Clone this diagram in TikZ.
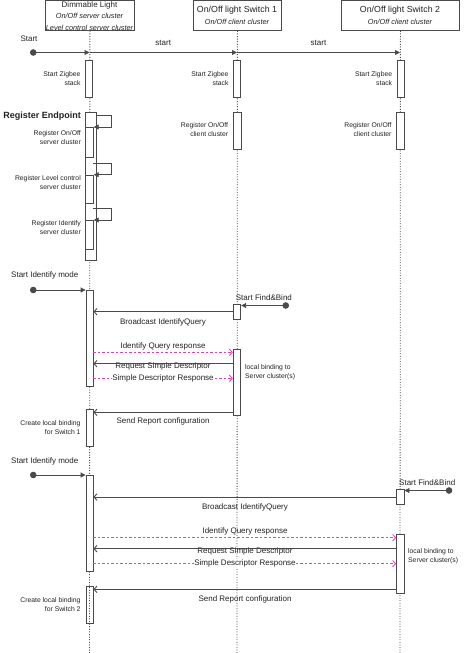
\documentclass[tikz,border=0pt]{standalone}
\usepackage{fontspec}
\setmainfont{Liberation Sans}
\usetikzlibrary{arrows.meta}
\definecolor{ln}{HTML}{4A4A4A}
\definecolor{tx}{HTML}{222222}
\definecolor{pk}{RGB}{236,60,180}
\begin{document}
\begin{tikzpicture}[x=1pt,y=-1pt,
  hdr/.style={draw=ln, line width=0.8pt, inner sep=0, anchor=north west},
  act/.style={draw=ln, fill=white, line width=0.8pt, inner sep=0, minimum width=7pt, anchor=north},
  life/.style={ln, line width=0.8pt, dash pattern=on 1pt off 1.6pt},
  msg/.style={ln, line width=0.9pt, -{Straight Barb[length=3pt,width=6.5pt]}},
  ret/.style={pk, line width=0.8pt, dash pattern=on 2.5pt off 2pt, -{Straight Barb[length=3pt,width=6.5pt]}},
  fmsg/.style={ln, line width=0.9pt, -{Triangle[length=5pt,width=5pt]}},
  trig/.style={ln, line width=0.9pt, {Circle[length=6.5pt]}-{Triangle[length=5pt,width=5pt]}},
  sm/.style={font=\fontsize{6.8}{9}\selectfont, text=tx, align=right, anchor=east, inner sep=0},
  sml/.style={font=\fontsize{6.8}{9}\selectfont, text=tx, align=left, anchor=west, inner sep=0},
  lb/.style={font=\fontsize{8}{9.5}\selectfont, text=tx, inner sep=0},
  ht/.style={font=\fontsize{8.8}{10}\selectfont, text=tx, inner sep=0},
  hi/.style={font=\fontsize{7.3}{9}\itshape, text=tx, inner sep=0}
]
\useasboundingbox (0,0) rectangle (474,653);
\fill[white] (0,0) rectangle (474,653);

% headers
\node[hdr, minimum width=89pt, minimum height=29.5pt] (dl) at (45,0.5) {};
\node[hdr, minimum width=88pt, minimum height=29.5pt] (s1) at (193,0.5) {};
\node[hdr, minimum width=118pt, minimum height=29.5pt] (s2) at (341,0.5) {};
\node[ht, font=\fontsize{8}{10}\selectfont] (dlt) at (89.5,5.8) {Dimmable Light};
\node[hi] (dls1) at (89.5,16.3) {On/Off server cluster};
\node[hi] (dls2) at (89.5,27.5) {Level control server cluster};
\node[ht] (s1t) at (237,10.5) {On/Off light Switch 1};
\node[hi] (s1s) at (237,21.5) {On/Off client cluster};
\node[ht] (s2t) at (400,10.5) {On/Off light Switch 2};
\node[hi] (s2s) at (400,22) {On/Off client cluster};

% lifelines
\coordinate (dlend) at (89.5,653);
\coordinate (s1end) at (237,653);
\coordinate (s2end) at (400,653);
\draw[life] (dl.south) -- (dlend);
\draw[life] (s1.south) -- (s1end);
\draw[life] (s2.south) -- (s2end);

% start
\coordinate (st) at (30,52.5);
\coordinate (dlst) at (89.5,52.5);
\coordinate (s1st) at (237,52.5);
\coordinate (s2st) at (400,52.5);
\node[lb] (stl) at (29,39) {Start};
\draw[trig] (st) -- (dlst);
\draw[fmsg] (dlst) -- node[lb, above=6pt] (st1) {start} (s1st);
\draw[fmsg] (s1st) -- node[lb, above=6pt] (st2) {start} (s2st);

% zigbee stack
\node[act, minimum height=37pt] (za) at (89.3,60) {};
\node[act, minimum height=37pt] (zb) at (237.3,60) {};
\node[act, minimum height=37pt] (zc) at (400.5,60) {};
\node[sm] (zal) at (80.7,79) {Start Zigbee\\stack};
\node[sm] (zbl) at (228.7,79) {Start Zigbee\\stack};
\node[sm] (zcl) at (392.3,79) {Start Zigbee\\stack};

% register endpoint
\node[act, minimum width=11pt, minimum height=148pt] (re) at (91.2,112) {};
\node[font=\bfseries\fontsize{9}{10}\selectfont, text=tx, anchor=east, inner sep=0] (rel) at (81,116) {Register Endpoint};
\node[act, minimum width=7.6pt, minimum height=30pt] (r1) at (89.5,127) {};
\node[act, minimum width=7.6pt, minimum height=28.6pt] (r2) at (89.5,174.7) {};
\node[act, minimum width=7.6pt, minimum height=28.7pt] (r3) at (89.5,220) {};
\coordinate (l1a) at (96.7,115.7); \coordinate (l1b) at (111,115.7); \coordinate (l1c) at (111,127);
\coordinate (l2a) at (93.3,163.3); \coordinate (l2b) at (111,163.3); \coordinate (l2c) at (111,174.7);
\coordinate (l3a) at (93.3,208.7); \coordinate (l3b) at (111,208.7); \coordinate (l3c) at (111,220);
\draw[fmsg] (l1a) -- (l1b) -- (l1c) -- (r1.north east);
\draw[fmsg] (l2a) -- (l2b) -- (l2c) -- (r2.north east);
\draw[fmsg] (l3a) -- (l3b) -- (l3c) -- (r3.north east);
\node[sm] (r1l) at (81,138) {Register On/Off\\server cluster};
\node[sm] (r2l) at (81,183) {Register Level control\\server cluster};
\node[sm] (r3l) at (81,227.5) {Register Identify\\server cluster};

\node[act, minimum width=8pt, minimum height=37.3pt] (rb) at (237.3,112) {};
\node[act, minimum width=7.6pt, minimum height=37.3pt] (rc) at (400.5,112) {};
\node[sm] (rbl) at (228.3,130) {Register On/Off\\client cluster};
\node[sm] (rcl) at (391.7,130) {Register On/Off\\client cluster};

% ---------- Switch 1 commissioning
\node[lb, anchor=west] (si1) at (11,275.7) {Start Identify mode};
\node[act, minimum height=96pt] (dla) at (89.5,290) {};
\coordinate (d1) at (30,290);
\draw[trig] (d1) -- (dla.north west);

\node[act, minimum width=7.5pt, minimum height=15pt] (b1) at (237,304.3) {};
\node[lb, anchor=west] (fb1l) at (235.7,297.3) {Start Find\&Bind};
\coordinate (fb1) at (289,305.5);
\draw[trig] (fb1) -- (b1.east |- fb1);

\coordinate (y1) at (0,311.7);
\draw[msg] (b1.west |- y1) -- (dla.east |- y1);
\node[lb] (bc1) at (163,322) {Broadcast IdentifyQuery};

\node[act, minimum width=7.5pt, minimum height=66.3pt] (b2) at (237,349) {};
\coordinate (y2) at (0,352.3);
\draw[ret] (dla.east |- y2) -- (b2.west |- y2);
\node[lb] (iq1) at (163,346) {Identify Query response};

\coordinate (y3) at (0,363.7);
\node[lb] (rq1) at (163,366.6) {Request Simple Descriptor};
\draw[msg] (b2.west |- y3) -- (dla.east |- y3);

\coordinate (y4) at (0,378.3);
\draw[ret] (dla.east |- y4) -- (b2.west |- y4);
\node[lb, fill=white, inner xsep=0.5pt, inner ysep=0.5pt] (sd1) at (163,378.3) {Simple Descriptor Response};

\node[sml] (lk1) at (245,372) {local binding to\\Server cluster(s)};

\node[act, minimum height=37.3pt] (dlb) at (89.5,408.7) {};
\coordinate (y5) at (0,412.3);
\draw[msg] (b2.west |- y5) -- (dlb.east |- y5);
\node[lb] (sr1) at (163,421.5) {Send Report configuration};
\node[sm] (cb1) at (80.7,428) {Create local binding\\for Switch 1};

% ---------- Switch 2 commissioning
\node[lb, anchor=west] (si2) at (11,461) {Start Identify mode};
\node[act, minimum height=96pt] (dlc) at (89.5,475) {};
\coordinate (d2) at (30,475);
\draw[trig] (d2) -- (dlc.north west);

\node[act, minimum width=7.5pt, minimum height=14.7pt] (c1) at (400.3,489.3) {};
\node[lb, anchor=west] (fb2l) at (399,483) {Start Find\&Bind};
\coordinate (fb2) at (452.3,490.5);
\draw[trig] (fb2) -- (c1.east |- fb2);

\coordinate (z1) at (0,497);
\draw[msg] (c1.west |- z1) -- (dlc.east |- z1);
\node[lb] (bc2) at (245,507) {Broadcast IdentifyQuery};

\node[act, minimum width=7.5pt, minimum height=59.3pt] (c2) at (400.3,534) {};
\coordinate (z2) at (0,537.7);
\draw[ret] (dlc.east |- z2) -- (c2.west |- z2);
\node[lb] (iq2) at (245,531) {Identify Query response};

\coordinate (z3) at (0,548.7);
\node[lb] (rq2) at (245,551.6) {Request Simple Descriptor};
\draw[msg] (c2.west |- z3) -- (dlc.east |- z3);

\coordinate (z4) at (0,563.7);
\draw[ret] (dlc.east |- z4) -- (c2.west |- z4);
\node[lb, fill=white, inner xsep=0.5pt, inner ysep=0.5pt] (sd2) at (245,563.7) {Simple Descriptor Response};

\node[sml] (lk2) at (408,556.5) {local binding to\\Server cluster(s)};

\node[act, fill=none, minimum height=37.6pt] (dld) at (89.5,585.7) {};
\coordinate (z5) at (0,589.3);
\draw[msg] (c2.west |- z5) -- (dld.east |- z5);
\node[lb] (sr2) at (245,599.3) {Send Report configuration};
\node[sm] (cb2) at (80.7,605) {Create local binding\\for Switch 2};
\end{tikzpicture}
\end{document}
